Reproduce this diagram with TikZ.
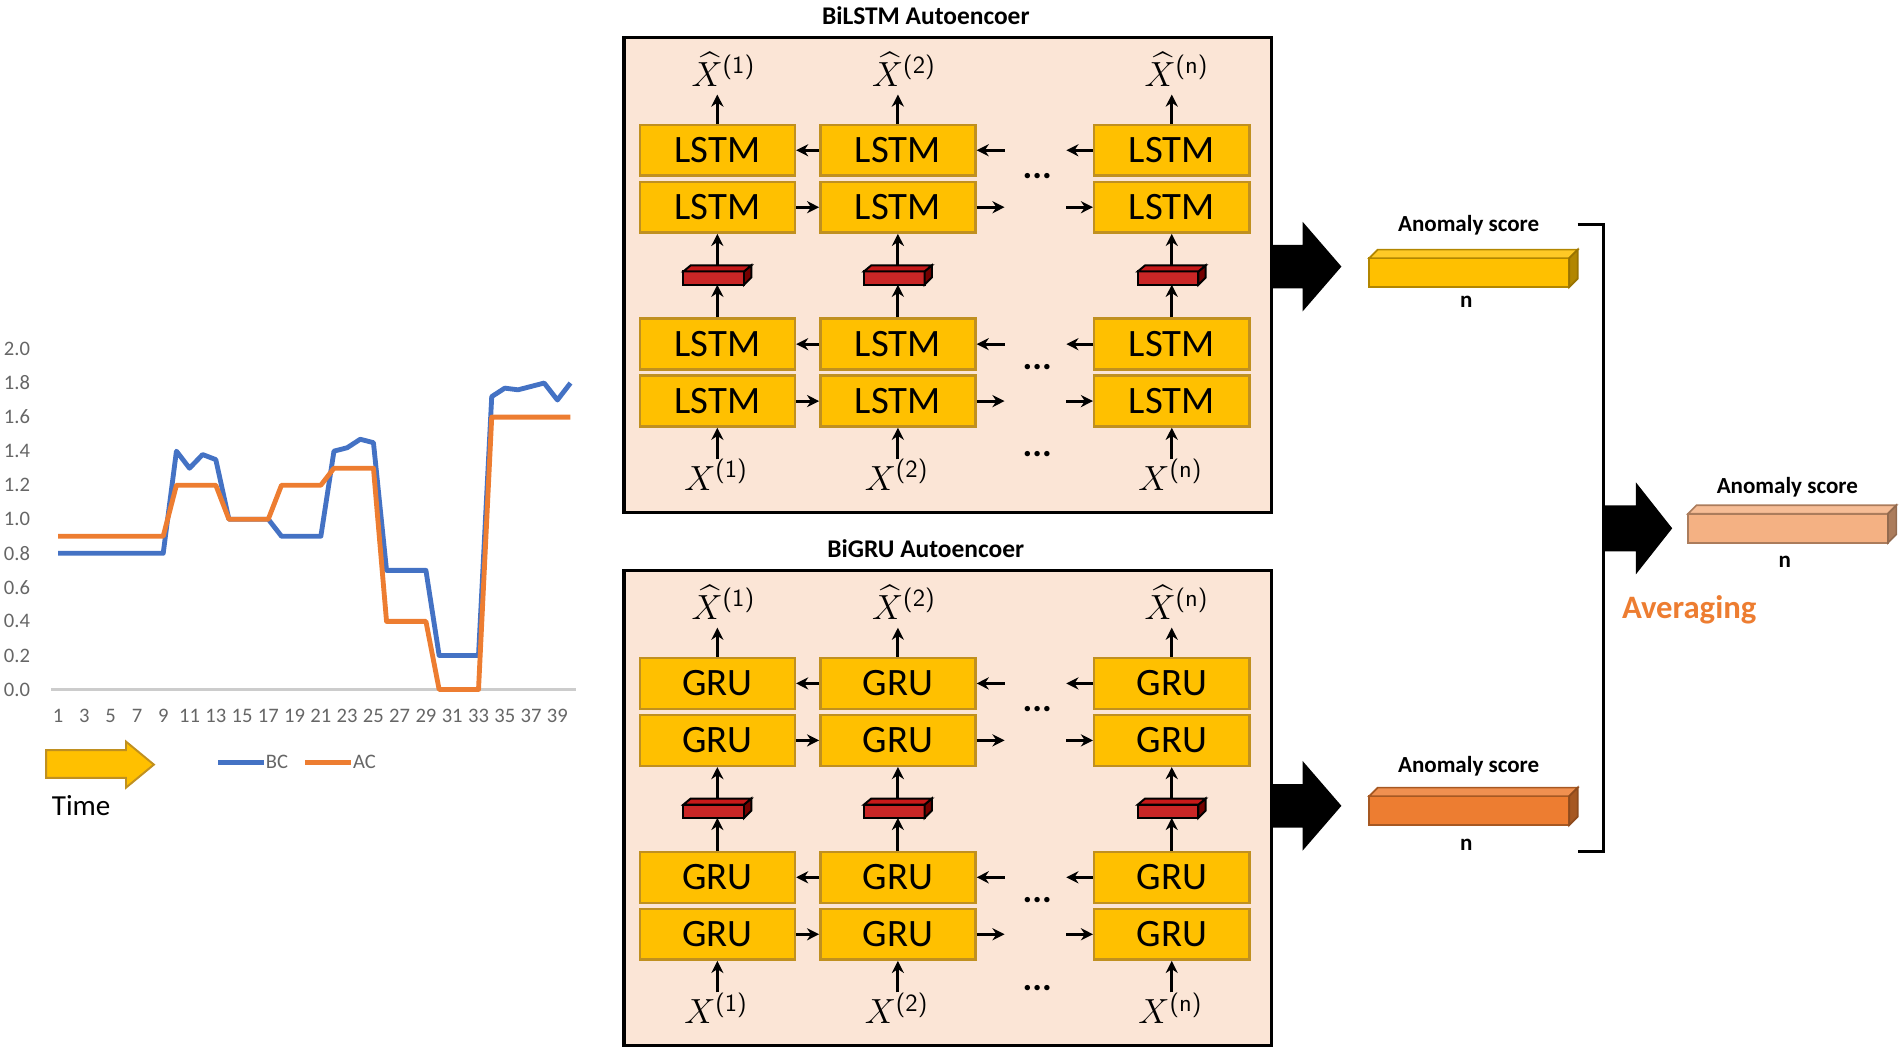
\documentclass[tikz,border=0pt]{standalone}
\usepackage{fontspec}
\setmainfont{Carlito}
\usepackage{amsmath}
\usetikzlibrary{arrows.meta}
\begin{document}
\begin{tikzpicture}[x=0.5pt,y=-0.5pt,
  cell/.style={draw=ybord,fill=ycell,line width=1pt,minimum width=64pt,minimum height=21pt,inner sep=0pt,font=\fontsize{16}{16}\selectfont},
  arr/.style={-{Stealth[length=5pt,width=5pt]},line width=1.2pt},
  lab/.style={font=\fontsize{14.5}{14.5}\selectfont,inner sep=0pt},
  ttl/.style={font=\bfseries\fontsize{10.5}{12}\selectfont},
  asc/.style={font=\bfseries\fontsize{9.5}{11}\selectfont},
  ax/.style={text=gray!80!black,font=\fontsize{8.5}{9}\selectfont},
  dots/.style={font=\bfseries\fontsize{15}{15}\selectfont}]
\definecolor{ycell}{HTML}{FFC000}
\definecolor{ybord}{HTML}{C09020}
\definecolor{peach}{HTML}{FBE5D6}
\definecolor{bblue}{HTML}{4472C4}
\definecolor{oor}{HTML}{ED7D31}
\definecolor{lor}{HTML}{F4B183}
\definecolor{dred}{HTML}{C00000}
\useasboundingbox (0,0) rectangle (1568,868);
% ---------- chart ----------
\foreach \v/\t in {0/0.0,1/0.2,2/0.4,3/0.6,4/0.8,5/1.0,6/1.2,7/1.4,8/1.6,9/1.8,10/2.0}
  \node[ax] (yl\v) at (14,{569-\v*28.1}) {\t};
\draw[gray!40,line width=1pt] (42,569) -- (475,569);
\foreach \i in {1,3,...,39}
  \node[ax] (xl\i) at ({48+(\i-1)*10.84},591) {\i};
\draw[bblue,line width=2pt,line join=round] plot coordinates {
(48,456.6)(134.7,456.6)(145.6,372.3)(156.4,386.4)(167.2,375.1)(178.1,379.3)(188.9,428.5)(221.4,428.5)(232.3,442.5)(264.8,442.5)(275.6,372.3)(286.5,369.5)(297.3,362.5)(308.2,365.3)(319,470.7)(351.5,470.7)(362.4,540.9)(394.9,540.9)(405.8,327.3)(416.6,320.3)(427.5,321.7)(438.3,318.9)(449.1,316.1)(460,330.1)(470.8,316.1)};
\draw[oor,line width=2pt,line join=round] plot coordinates {
(48,442.5)(134.7,442.5)(145.6,400.4)(178.1,400.4)(188.9,428.5)(221.4,428.5)(232.3,400.4)(264.8,400.4)(275.6,386.4)(308.2,386.4)(319,512.8)(351.5,512.8)(362.4,569)(394.9,569)(405.8,344.2)(470.8,344.2)};
\draw[bblue,line width=2pt] (180,629) -- (218,629);
\node[ax,anchor=west,inner sep=0pt] (bc) at (219,629) {BC};
\draw[oor,line width=2pt] (252,629) -- (290,629);
\node[ax,anchor=west,inner sep=0pt] (ac) at (291,629) {AC};
\draw[fill=ycell,draw=ybord,line width=0.8pt] (38,619)--(104,619)--(104,612)--(127,631)--(104,650)--(104,642)--(38,642)--cycle;
\node[font=\fontsize{12}{12}\selectfont] (time) at (67,665) {Time};
% ---------- autoencoders ----------
\foreach \b/\oy/\nm/\tt in {A/0/LSTM/BiLSTM Autoencoer,B/440/GRU/BiGRU Autoencoer}{
  \begin{scope}[yshift={-\oy*0.5pt}]
  \draw[fill=peach,line width=1.3pt] (515,31) rectangle (1049,423);
  \node[ttl] (t\b) at (764,13) {\tt};
  \foreach \c/\cx in {1/592,2/741,3/967}{
    \foreach \r/\ry in {1/124,2/171,3/284,4/331}
      \node[cell] (\b c\c r\r) at (\cx,\ry) {\nm};
    \draw[fill=dred!85,line width=0.8pt] (\cx-28,224) rectangle (\cx+22,235);
    \draw[fill=dred!60!black,line width=0.8pt] (\cx+22,224) -- (\cx+28,219) -- (\cx+28,229) -- (\cx+22,235) -- cycle;
    \draw[fill=dred!90!white,line width=0.8pt] (\cx-28,224) -- (\cx-22,219) -- (\cx+28,219) -- (\cx+22,224) -- cycle;
    \coordinate (\b rb\c) at (\cx,235);
    \coordinate (\b rt\c) at (\cx,219);
    \draw[arr] (\b rt\c) -- (\b c\c r2);
    \draw[arr] (\b c\c r3) -- (\b rb\c);
  }
  \node[lab] (\b h1) at (597,57) {$\widehat{X}^{\textsf{(1)}}$};
  \node[lab] (\b h2) at (746,57) {$\widehat{X}^{\textsf{(2)}}$};
  \node[lab] (\b h3) at (971,57) {$\widehat{X}^{\textsf{(n)}}$};
  \node[lab] (\b x1) at (591,392) {$X^{\textsf{(1)}}$};
  \node[lab] (\b x2) at (740,392) {$X^{\textsf{(2)}}$};
  \node[lab] (\b x3) at (966,392) {$X^{\textsf{(n)}}$};
  \foreach \c in {1,2,3}{
    \draw[arr] (\b c\c r1.north) -- ++(0,-24);
    \draw[arr] (\b c\c r4.south)++(0,26) -- (\b c\c r4.south);
  }
  \node[dots] (\b d1) at (856,145) {...};
  \node[dots] (\b d2) at (856,303) {...};
  \node[dots] (\b d3) at (856,375) {...};
  \foreach \r in {1,3}{
    \draw[arr] (\b c2r\r) -- (\b c1r\r);
    \draw[arr] (\b c2r\r.east)++(23,0) -- (\b c2r\r.east);
    \draw[arr] (\b c3r\r.west) -- ++(-22,0);
  }
  \foreach \r in {2,4}{
    \draw[arr] (\b c1r\r) -- (\b c2r\r);
    \draw[arr] (\b c2r\r.east) -- ++(23,0);
    \draw[arr] (\b c3r\r.west)++(-22,0) -- (\b c3r\r.west);
  }
  \end{scope}
}
% ---------- big arrows ----------
\foreach \y in {220,665}
  \fill (1049,{\y-18}) -- (1075,{\y-18}) -- (1075,{\y-37}) -- (1107,\y) -- (1075,{\y+37}) -- (1075,{\y+18}) -- (1049,{\y+18}) -- cycle;
\fill (1323,417) -- (1350,417) -- (1350,398) -- (1380,436) -- (1350,474) -- (1350,455) -- (1323,455) -- cycle;
% ---------- score bars ----------
\foreach \n/\x/\y/\c/\ty/\ny in {s1/1130/213/ycell/186/249,s2/1130/657/oor/632/697,s3/1393/424/lor/402/464}{
  \draw[fill=\c,draw=\c!70!black,line width=0.7pt] (\x,\y) rectangle (\x+165,\y+24);
  \draw[fill=\c!85!white,draw=\c!70!black,line width=0.7pt] (\x,\y) -- (\x+7,\y-7) -- (\x+172,\y-7) -- (\x+165,\y) -- cycle;
  \draw[fill=\c!70!black,draw=\c!60!black,line width=0.7pt] (\x+165,\y) -- (\x+172,\y-7) -- (\x+172,\y+17) -- (\x+165,\y+24) -- cycle;
  \node[asc] (\n t) at (\x+82,\ty) {Anomaly score};
  \node[asc] (\n n) at (\x+80,\ny) {n};
}
\draw[line width=1.3pt] (1302,185) -- (1323,185) -- (1323,703) -- (1302,703);
\node[font=\bfseries\fontsize{13.5}{14}\selectfont,text=oor] (avg) at (1394,503) {Averaging};
\end{tikzpicture}
\end{document}
